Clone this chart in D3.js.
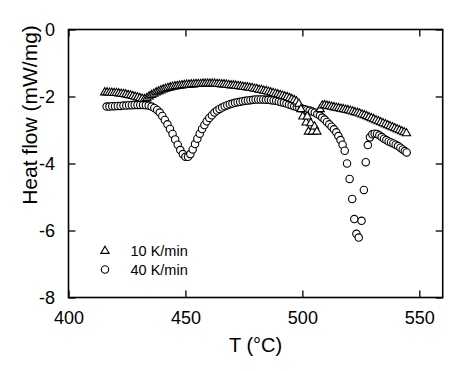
<!DOCTYPE html>
<html>
<head>
<meta charset="utf-8">
<script src="https://cdn.jsdelivr.net/npm/d3@7"></script>
<style>
  body { margin: 0; background: #fff; }
  svg { display: block; font-family: "Liberation Sans", Arial, sans-serif; }
</style>
</head>
<body>
<div id="graph"></div>
<script>
// series: [T (°C), heat flow (mW/mg)]
var rate10 = [
  [415.5,-1.88],[416.5,-1.88],[417.5,-1.89],[418.5,-1.89],[419.5,-1.90],[420.5,-1.90],
  [421.5,-1.91],[422.5,-1.92],[423.5,-1.93],[424.5,-1.94],[425.5,-1.96],[426.5,-1.97],
  [427.5,-1.99],[428.5,-2.01],[429.5,-2.03],[430.5,-2.05],[431.5,-2.07],[432.5,-2.08],
  [433.5,-2.05],[434.5,-2.00],[435.5,-1.96],[436.5,-1.92],[437.5,-1.88],[438.5,-1.85],
  [439.5,-1.82],[440.5,-1.79],[441.5,-1.77],[442.5,-1.75],[443.5,-1.73],[444.5,-1.71],
  [445.5,-1.70],[446.5,-1.69],[447.5,-1.68],[448.5,-1.67],[449.5,-1.66],[450.5,-1.65],
  [451.5,-1.65],[452.5,-1.64],[453.5,-1.64],[454.5,-1.63],[455.5,-1.63],[456.5,-1.63],
  [457.5,-1.62],[458.5,-1.62],[459.5,-1.62],[460.5,-1.62],[461.5,-1.62],[462.5,-1.62],
  [463.5,-1.63],[464.5,-1.63],[465.5,-1.64],[466.5,-1.64],[467.5,-1.65],[468.5,-1.66],
  [469.5,-1.67],[470.5,-1.67],[471.5,-1.68],[472.5,-1.69],[473.5,-1.70],[474.5,-1.71],
  [475.5,-1.72],[476.5,-1.73],[477.5,-1.74],[478.5,-1.75],[479.5,-1.77],[480.5,-1.78],
  [481.5,-1.80],[482.5,-1.81],[483.5,-1.83],[484.5,-1.84],[485.5,-1.86],[486.5,-1.88],
  [487.5,-1.90],[488.5,-1.92],[489.5,-1.94],[490.5,-1.96],[491.5,-1.98],[492.5,-2.00],
  [493.5,-2.02],[494.5,-2.05],[495.5,-2.08],[496.5,-2.11],[497.5,-2.15],[498.5,-2.22],
  [499.4,-2.38],[500.2,-2.60],[501.6,-2.78],[502.1,-2.60],[502.6,-3.05],[503.6,-2.80],
  [504.3,-3.05],[505.2,-2.90],[506.2,-3.05],[507.6,-2.38],[508.5,-2.27],
  [509.5,-2.26],[510.5,-2.28],[511.5,-2.29],[512.5,-2.31],[513.5,-2.32],[514.5,-2.34],
  [515.5,-2.35],[516.5,-2.37],[517.5,-2.38],[518.5,-2.40],[519.5,-2.41],[520.5,-2.43],
  [521.5,-2.45],[522.5,-2.47],[523.5,-2.49],[524.5,-2.51],[525.5,-2.54],[526.5,-2.56],
  [527.5,-2.59],[528.5,-2.62],[529.5,-2.65],[530.5,-2.68],[531.5,-2.71],[532.5,-2.74],
  [533.5,-2.77],[534.5,-2.80],[535.5,-2.83],[536.5,-2.86],[537.5,-2.89],[538.5,-2.92],
  [539.5,-2.95],[540.5,-2.98],[541.5,-3.01],[542.5,-3.04],[543.5,-3.07],[544.5,-3.10]
];

var rate40 = [
  [416.3,-2.30],[417.5,-2.30],[418.7,-2.29],[419.9,-2.29],[421.1,-2.28],[422.3,-2.28],
  [423.5,-2.27],[424.7,-2.27],[425.9,-2.26],[427.1,-2.26],[428.3,-2.25],[429.5,-2.25],
  [430.7,-2.25],[431.9,-2.25],[433.1,-2.26],[434.3,-2.27],[435.5,-2.30],[436.7,-2.34],
  [437.9,-2.40],[439.0,-2.48],[440.1,-2.58],[441.2,-2.70],[442.3,-2.83],[443.4,-2.97],
  [444.5,-3.12],[445.6,-3.28],[446.7,-3.44],[447.8,-3.60],[448.9,-3.72],[450.0,-3.80],
  [451.1,-3.80],[452.1,-3.72],[453.1,-3.58],[454.1,-3.42],[455.1,-3.26],[456.1,-3.11],
  [457.1,-2.97],[458.1,-2.85],[459.1,-2.74],[460.2,-2.64],[461.3,-2.56],[462.4,-2.48],
  [463.5,-2.42],[464.6,-2.37],[465.7,-2.33],[466.8,-2.29],[467.9,-2.26],[469.0,-2.23],
  [470.1,-2.21],[471.2,-2.19],[472.3,-2.17],[473.4,-2.16],[474.5,-2.14],[475.6,-2.13],
  [476.7,-2.12],[477.8,-2.11],[478.9,-2.10],[480.0,-2.09],[481.1,-2.09],[482.2,-2.09],
  [483.3,-2.09],[484.4,-2.10],[485.5,-2.10],[486.6,-2.11],[487.7,-2.12],[488.8,-2.13],
  [489.9,-2.15],[491.0,-2.17],[492.1,-2.19],[493.2,-2.21],[494.3,-2.24],[495.4,-2.26],
  [496.5,-2.29],[497.6,-2.31],[498.7,-2.34],[499.8,-2.36],[500.9,-2.38],[502.0,-2.40],
  [503.1,-2.42],[504.2,-2.45],[505.3,-2.48],[506.4,-2.52],[507.5,-2.57],[508.5,-2.63],
  [509.5,-2.69],[510.5,-2.76],[511.5,-2.83],[512.5,-2.90],[513.5,-2.98],[514.5,-3.07],
  [515.4,-3.18],[516.3,-3.30],[517.2,-3.44],[518.1,-3.62],[519.1,-4.00],[520.2,-4.46],
  [521.3,-5.06],[522.2,-5.66],[523.1,-6.10],[524.1,-6.21],[525.3,-5.71],[526.3,-4.79],
  [527.1,-3.96],[528.0,-3.45],[528.9,-3.22],[529.9,-3.13],[530.9,-3.11],[531.9,-3.12],
  [532.9,-3.16],[533.9,-3.21],[534.9,-3.26],[535.9,-3.30],[536.9,-3.34],[537.9,-3.37],
  [538.9,-3.40],[539.9,-3.44],[540.9,-3.48],[541.9,-3.53],[542.9,-3.58],[543.8,-3.63],
  [544.6,-3.67]
];

var xTicks = [400, 450, 500, 550];
var yTicks = [0, -2, -4, -6, -8];
var legendLabels = ["10 K/min", "40 K/min"];

var svgWidth = 474, svgHeight = 371;
var chartMargin = {top: 29.5, right: 31.3, bottom: 73.5, left: 68.5};
var chartWidth = svgWidth - chartMargin.left - chartMargin.right;
var chartHeight = svgHeight - chartMargin.top - chartMargin.bottom;

var svg = d3.select("#graph").append("svg")
  .attr("width", svgWidth)
  .attr("height", svgHeight);

var chartGroup = svg.append("g")
  .attr("transform", `translate(${chartMargin.left}, ${chartMargin.top})`);

var xScale = d3.scaleLinear().domain([400, 560]).range([0, chartWidth]);
var yScale = d3.scaleLinear().domain([-8, 0]).range([chartHeight, 0]);

// plain hyphen for negatives, like the original
var plain = d => String(d);

// ticks point inward on all four sides
function styleAxis(g, showText) {
  g.select(".domain").remove();
  g.selectAll(".tick line").attr("stroke", "#000").attr("stroke-width", 1.3);
  g.selectAll("text").attr("fill", "#000").style("font-size", "18px");
  if (!showText) g.selectAll("text").remove();
}

chartGroup.append("g")
  .attr("transform", `translate(0, ${chartHeight})`)
  .call(d3.axisBottom(xScale).tickValues(xTicks).tickFormat(plain).tickSizeInner(-7).tickSizeOuter(0).tickPadding(14))
  .call(styleAxis, true);

chartGroup.append("g")
  .call(d3.axisTop(xScale).tickValues(xTicks).tickSizeInner(-7).tickSizeOuter(0))
  .call(styleAxis, false);

chartGroup.append("g")
  .call(d3.axisLeft(yScale).tickValues(yTicks).tickFormat(plain).tickSizeInner(-7).tickSizeOuter(0).tickPadding(13.5))
  .call(styleAxis, true);

chartGroup.append("g")
  .attr("transform", `translate(${chartWidth}, 0)`)
  .call(d3.axisRight(yScale).tickValues(yTicks).tickSizeInner(-7).tickSizeOuter(0))
  .call(styleAxis, false);

chartGroup.append("rect")
  .attr("width", chartWidth)
  .attr("height", chartHeight)
  .attr("fill", "none")
  .attr("stroke", "#000")
  .attr("stroke-width", 1.6);

var triangle = d3.symbol().type(d3.symbolTriangle).size(30);

// 40 K/min circles
chartGroup.append("g").selectAll("circle")
  .data(rate40)
  .enter()
  .append("circle")
  .attr("cx", d => xScale(d[0]))
  .attr("cy", d => yScale(d[1]))
  .attr("r", 3.7)
  .attr("fill", "#fff")
  .attr("stroke", "#000")
  .attr("stroke-width", 1.1);

// 10 K/min triangles
chartGroup.append("g").selectAll("path")
  .data(rate10)
  .enter()
  .append("path")
  .attr("d", triangle)
  .attr("transform", d => `translate(${xScale(d[0])}, ${yScale(d[1])})`)
  .attr("fill", "#fff")
  .attr("stroke", "#000")
  .attr("stroke-width", 1.1);

// legend
var legend = svg.append("g");
legend.append("path")
  .attr("d", triangle)
  .attr("transform", "translate(105, 251)")
  .attr("fill", "#fff").attr("stroke", "#000").attr("stroke-width", 1.1);
legend.append("circle")
  .attr("cx", 105).attr("cy", 269.5).attr("r", 3.7)
  .attr("fill", "#fff").attr("stroke", "#000").attr("stroke-width", 1.1);
legend.selectAll("text")
  .data(legendLabels)
  .enter()
  .append("text")
  .attr("x", 130.5)
  .attr("y", (d, i) => 256 + i * 18.5)
  .style("font-size", "14.5px")
  .text(d => d);

// axis titles
svg.append("text")
  .attr("x", chartMargin.left + chartWidth / 2)
  .attr("y", 352)
  .style("text-anchor", "middle")
  .style("font-size", "20px")
  .text("T (°C)");

svg.append("text")
  .attr("transform", "translate(37, 115) rotate(-90)")
  .style("text-anchor", "middle")
  .style("font-size", "21px")
  .text("Heat flow (mW/mg)");
</script>
</body>
</html>
